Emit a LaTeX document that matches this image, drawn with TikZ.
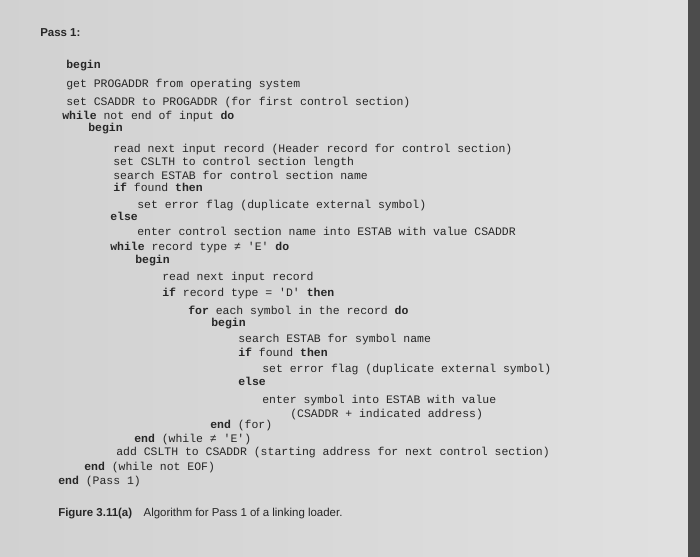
\documentclass[tikz,border=0pt]{standalone}
\usepackage{fontspec}
\setmainfont{Liberation Sans}
\newfontfamily\codefont{Liberation Mono}
\begin{document}
\begin{tikzpicture}[x=0.75pt,y=-0.75pt,
  ln/.style={anchor=base west,inner sep=0pt,font=\codefont\fontsize{8.6}{10}\selectfont,text=black!85},
  sf/.style={anchor=base west,inner sep=0pt,font=\fontsize{8.6}{10}\selectfont,text=black!85}]
\useasboundingbox (0,0) rectangle (700,557);
\fill[left color=black!18,right color=black!12] (0,0) rectangle (688,557);
\fill[black!70] (688,0) rectangle (700,557);
\node[sf,font=\bfseries\fontsize{8.6}{10}\selectfont] (t) at (40,36) {Pass 1:};
\node[ln] (l1) at (66,68) {\textbf{begin}};
\node[ln] (l2) at (66,87) {get PROGADDR from operating system};
\node[ln] (l3) at (66,105) {set CSADDR to PROGADDR (for first control section)};
\node[ln] (l4) at (62,119) {\textbf{while} not end of input \textbf{do}};
\node[ln] (l5) at (88,131) {\textbf{begin}};
\node[ln] (l6) at (113,152) {read next input record (Header record for control section)};
\node[ln] (l7) at (113,165) {set CSLTH to control section length};
\node[ln] (l8) at (113,179) {search ESTAB for control section name};
\node[ln] (l9) at (113,191) {\textbf{if} found \textbf{then}};
\node[ln] (l10) at (137,208) {set error flag (duplicate external symbol)};
\node[ln] (l11) at (110,220) {\textbf{else}};
\node[ln] (l12) at (137,235) {enter control section name into ESTAB with value CSADDR};
\node[ln] (l13) at (110,250) {\textbf{while} record type ≠ 'E' \textbf{do}};
\node[ln] (l14) at (135,263) {\textbf{begin}};
\node[ln] (l15) at (162,280) {read next input record};
\node[ln] (l16) at (162,296) {\textbf{if} record type = 'D' \textbf{then}};
\node[ln] (l17) at (188,314) {\textbf{for} each symbol in the record \textbf{do}};
\node[ln] (l18) at (211,326) {\textbf{begin}};
\node[ln] (l19) at (238,342) {search ESTAB for symbol name};
\node[ln] (l20) at (238,356) {\textbf{if} found \textbf{then}};
\node[ln] (l21) at (262,372) {set error flag (duplicate external symbol)};
\node[ln] (l22) at (238,385) {\textbf{else}};
\node[ln] (l23) at (262,403) {enter symbol into ESTAB with value};
\node[ln] (l24) at (290,417) {(CSADDR + indicated address)};
\node[ln] (l25) at (210,428) {\textbf{end} (for)};
\node[ln] (l26) at (134,442) {\textbf{end} (while ≠ 'E')};
\node[ln] (l27) at (116,455) {add CSLTH to CSADDR (starting address for next control section)};
\node[ln] (l28) at (84,470) {\textbf{end} (while not EOF)};
\node[ln] (l29) at (58,484) {\textbf{end} (Pass 1)};
\node[sf] (cap) at (58,516) {\textbf{Figure 3.11(a)}\quad Algorithm for Pass 1 of a linking loader.};
\end{tikzpicture}
\end{document}
